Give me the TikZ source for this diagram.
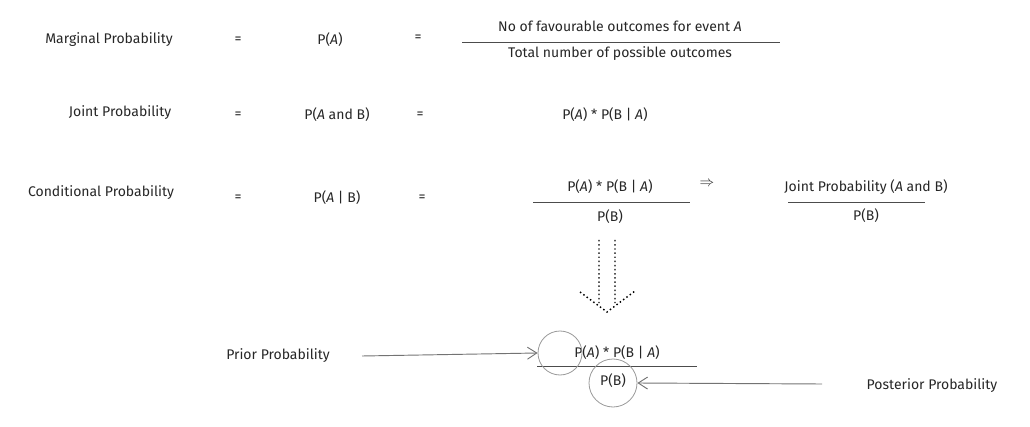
\documentclass[tikz,border=0pt]{standalone}
\usepackage{fontspec}
\setmainfont{Fira Sans}
\usetikzlibrary{arrows.meta}
\begin{document}
\begin{tikzpicture}[x=0.75pt,y=-0.75pt,
  lbl/.style={font=\fontsize{10.5}{12}\selectfont,text=black!85,inner sep=1pt},
  frac/.style={draw=black!70,line width=0.7pt},
  pointer/.style={draw=black!55,line width=0.7pt,-{Straight Barb[length=7pt,width=9pt]}},
  ring/.style={draw=black!40,line width=0.6pt,circle}]
\useasboundingbox (0,0) rectangle (1030,427);
% row 1
\node[lbl] (m) at (109,40) {Marginal Probability};
\node[lbl] (e1) at (238,40) {=};
\node[lbl] (pa) at (330,40) {P(\textit{A})};
\node[lbl] (e2) at (418,38) {=};
\node[lbl] (n1) at (620,26) {No of favourable outcomes for event \textit{A}};
\node[lbl] (d1) at (620,54) {Total number of possible outcomes};
\coordinate (l1a) at (462,42); \coordinate (l1b) at (780,42);
\draw[frac] (l1a) -- (l1b);
% row 2
\node[lbl] (j) at (120,113) {Joint Probability};
\node[lbl] (e3) at (238,115) {=};
\node[lbl] (pab) at (337,115) {P(\textit{A} and B)};
\node[lbl] (e4) at (420,115) {=};
\node[lbl] (jr) at (605,115) {P(\textit{A}) * P(B | \textit{A})};
% row 3
\node[lbl] (c) at (101,193) {Conditional Probability};
\node[lbl] (e5) at (238,198) {=};
\node[lbl] (pagb) at (337,198) {P(\textit{A} | B)};
\node[lbl] (e6) at (422,198) {=};
\node[lbl] (n3) at (610,187) {P(\textit{A}) * P(B | \textit{A})};
\node[lbl] (d3) at (610,217) {P(B)};
\coordinate (l3a) at (533,202); \coordinate (l3b) at (690,202);
\draw[frac] (l3a) -- (l3b);
\node[lbl] (imp) at (707,184) {$\Rightarrow$};
\node[lbl] (n4) at (866,187) {Joint Probability (\textit{A} and B)};
\node[lbl] (d4) at (866,216) {P(B)};
\coordinate (l4a) at (788,202); \coordinate (l4b) at (925,202);
\draw[frac] (l4a) -- (l4b);
% dotted arrow
\coordinate (s1a) at (599,240); \coordinate (s1b) at (599,303);
\coordinate (s2a) at (615,240); \coordinate (s2b) at (615,303);
\coordinate (hl) at (580,292); \coordinate (ht) at (607,312); \coordinate (hr) at (635,291);
\draw[dotted,line width=1.1pt] (s1a) -- (s1b) (s2a) -- (s2b) (hl) -- (ht) -- (hr);
% bottom
\node[lbl] (prior) at (278,356) {Prior Probability};
\node[lbl] (nb) at (617,353) {P(\textit{A}) * P(B | \textit{A})};
\node[lbl] (db) at (613,381) {P(B)};
\coordinate (lba) at (537,366); \coordinate (lbb) at (697,366);
\draw[frac] (lba) -- (lbb);
\node[ring,minimum size=33pt] (ca) at (560,353) {};
\node[ring,minimum size=36pt] (cb) at (613,383) {};
\node[lbl] (post) at (932,386) {Posterior Probability};
\coordinate (pa0) at (362,356);
\draw[pointer] (pa0) -- (ca.west);
\coordinate (pb0) at (822,384);
\draw[pointer] (pb0) -- (cb.east);
\end{tikzpicture}
\end{document}
